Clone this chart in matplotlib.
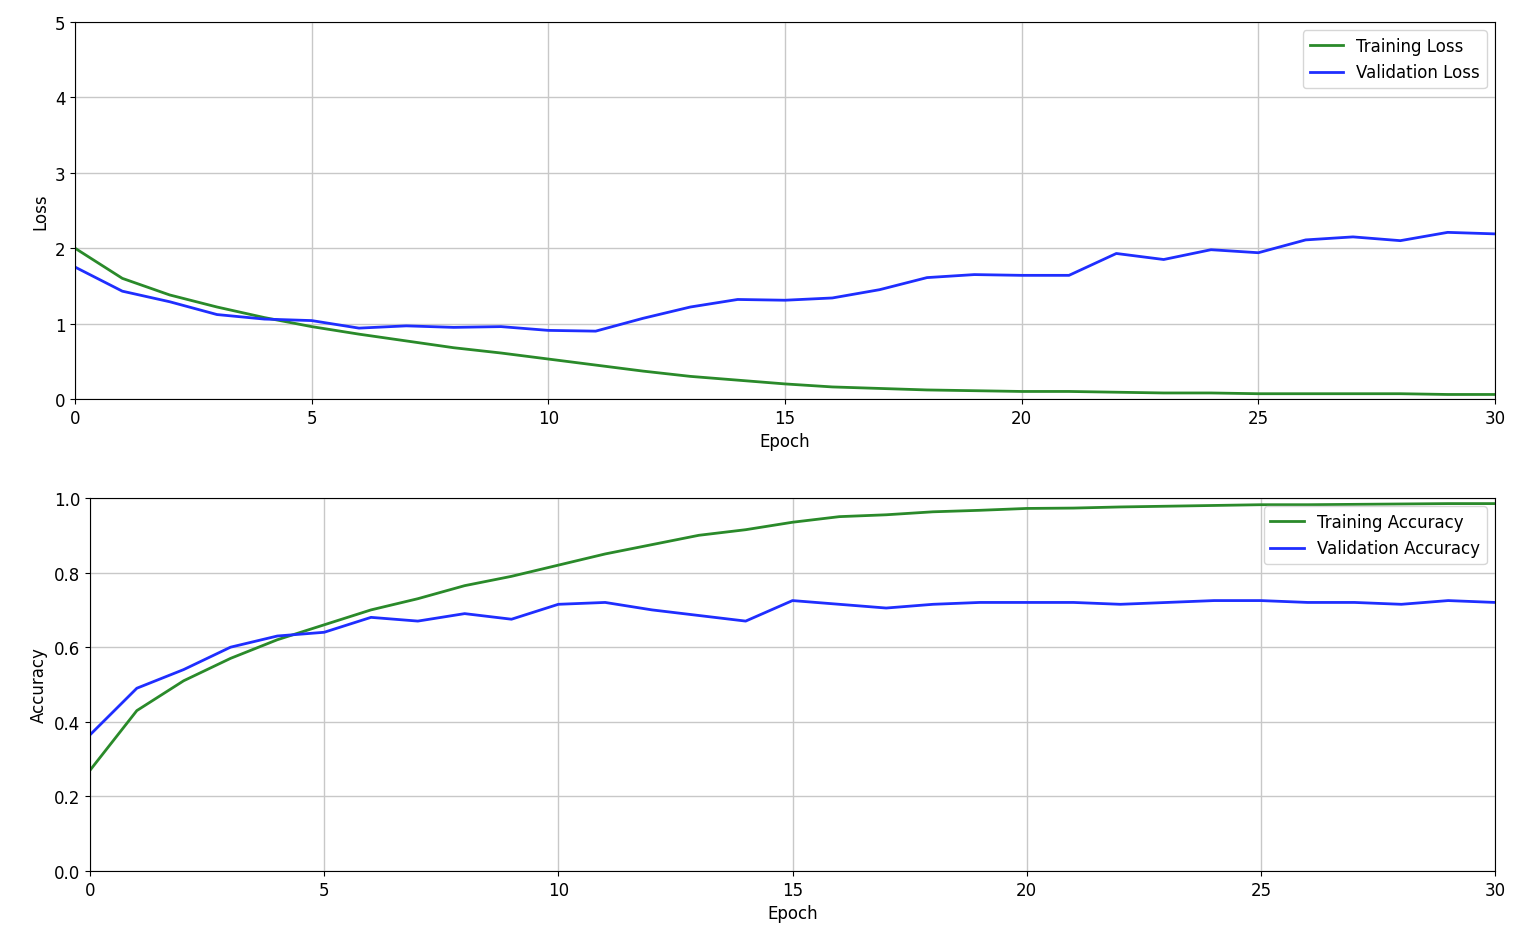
import matplotlib
matplotlib.use("Agg")
import matplotlib.pyplot as plt

epochs = list(range(31))
train_loss = [2.0, 1.6, 1.38, 1.22, 1.08, 0.96, 0.86, 0.77, 0.68, 0.61, 0.53, 0.45, 0.37, 0.30, 0.25, 0.20,
              0.16, 0.14, 0.12, 0.11, 0.10, 0.10, 0.09, 0.08, 0.08, 0.07, 0.07, 0.07, 0.07, 0.06, 0.06]
val_loss = [1.75, 1.43, 1.29, 1.12, 1.06, 1.04, 0.94, 0.97, 0.95, 0.96, 0.91, 0.90, 1.07, 1.22, 1.32, 1.31,
            1.34, 1.45, 1.61, 1.65, 1.64, 1.64, 1.93, 1.85, 1.98, 1.94, 2.11, 2.15, 2.10, 2.21, 2.19]
train_acc = [0.27, 0.43, 0.51, 0.57, 0.62, 0.66, 0.70, 0.73, 0.765, 0.79, 0.82, 0.85, 0.875, 0.90, 0.915, 0.935,
             0.95, 0.955, 0.963, 0.967, 0.972, 0.973, 0.976, 0.978, 0.98, 0.982, 0.982, 0.983, 0.984, 0.985, 0.985]
val_acc = [0.365, 0.49, 0.54, 0.60, 0.63, 0.64, 0.68, 0.67, 0.69, 0.675, 0.715, 0.72, 0.70, 0.685, 0.67, 0.725,
           0.715, 0.705, 0.715, 0.72, 0.72, 0.72, 0.715, 0.72, 0.725, 0.725, 0.72, 0.72, 0.715, 0.725, 0.72]

green = "#2a8a2a"
blue = "#1f2eff"

fig = plt.figure(figsize=(15.36, 9.45), dpi=100)
ax1 = fig.add_axes([75 / 1536, 1 - 400 / 945, 1420 / 1536, 377 / 945])
ax2 = fig.add_axes([90 / 1536, 1 - 872 / 945, 1405 / 1536, 373 / 945])

ax1.plot(epochs, train_loss, color=green, lw=2, label="Training Loss")
ax1.plot(epochs, val_loss, color=blue, lw=2, label="Validation Loss")
ax1.set_ylim(0, 5)
ax1.set_ylabel("Loss", fontsize=12)

ax2.plot(epochs, train_acc, color=green, lw=2, label="Training Accuracy")
ax2.plot(epochs, val_acc, color=blue, lw=2, label="Validation Accuracy")
ax2.set_ylim(0, 1)
ax2.set_ylabel("Accuracy", fontsize=12)

for ax in (ax1, ax2):
    ax.set_xlim(0, 30)
    ax.set_xlabel("Epoch", fontsize=12)
    ax.tick_params(labelsize=12)
    ax.grid(True, color="#c8c8c8", lw=1)
    ax.legend(loc="upper right", fontsize=12)

fig.savefig("out.png", dpi=100)
